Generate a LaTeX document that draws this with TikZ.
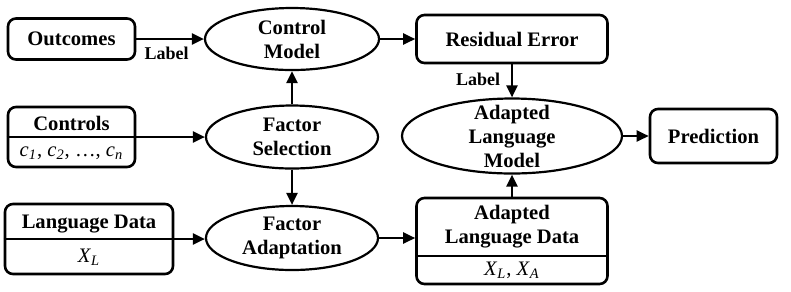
\documentclass[tikz,border=0pt]{standalone}
\usepackage{fontspec}
\setmainfont{Liberation Serif}
\usetikzlibrary{arrows.meta,positioning,shapes.geometric}

\newcommand{\vsub}[2]{\textit{#1}\textsubscript{\textit{#2}}}
\newcommand{\boxfont}{\fontsize{10.3}{12}\selectfont\bfseries}

\tikzset{
    box/.style={
        draw,line width=1.3pt,rounded corners=4pt,inner sep=0pt,
        align=center,font=\boxfont
    },
    oval/.style={
        draw,ellipse,line width=1.1pt,inner sep=0pt
    },
    ovaltext/.style={
        align=center,font=\boxfont
    },
    vartext/.style={
        font=\fontsize{10.3}{12}\selectfont,inner sep=0pt
    },
    split/.style={
        line width=1.3pt
    },
    arrow/.style={
        -{Triangle[length=6pt,width=5.5pt]},line width=1.1pt
    },
    tag/.style={
        font=\fontsize{9}{10}\selectfont\bfseries
    }
}

\begin{document}
\begin{tikzpicture}[x=0.5pt,y=-0.5pt]

\useasboundingbox (0,0) rectangle (791,291);

% top row
\node[box,minimum width=63.5pt,minimum height=20.5pt]
(out) at (71.5,39) {Outcomes};

\node[oval,minimum width=87pt,minimum height=31pt,
label={[ovaltext]center:Control\\Model}]
(cm) at (292,39) {};

\node[box,minimum width=95.5pt,minimum height=24pt]
(res) at (512,39) {Residual Error};

% middle row
\node[box,minimum width=63.5pt,minimum height=30pt]
(ctrl) at (71.5,137) {};
\node[ovaltext] (ctrlhead) at (71.5,123) {Controls};
\node[vartext] (ctrlvar) at (71.5,153)
{\vsub{c}{1}, \vsub{c}{2}, \dots, \vsub{c}{n}};
\draw[split] (ctrl.west) -- (ctrl.east);

\node[oval,minimum width=86pt,minimum height=31.5pt,
label={[ovaltext]center:Factor\\Selection}]
(fs) at (292,137) {};

\node[oval,minimum width=110pt,minimum height=37.5pt,
label={[ovaltext]center:Adapted\\Language\\Model}]
(alm) at (512,136) {};

\node[box,minimum width=63.5pt,minimum height=27pt]
(pred) at (713.5,136) {Prediction};

% bottom row
\node[box,minimum width=84pt,minimum height=35pt]
(lang) at (89,239) {};
\node[ovaltext] (langhead) at (89,224) {Language Data};
\node[vartext] (langvar) at (89,257) {\vsub{X}{L}};
\draw[split] (lang.west) -- (lang.east);

\node[oval,minimum width=86pt,minimum height=32pt,
label={[ovaltext]center:Factor\\Adaptation}]
(fa) at (292,238) {};

\node[box,minimum width=95.5pt,minimum height=43pt]
(ald) at (512,241) {};
\node[ovaltext] (aldhead) at (512,227) {Adapted\\Language Data};
\node[vartext] (aldvar) at (512,270) {\vsub{X}{L}, \vsub{X}{A}};
\draw[split] (ald.west |- 0,256) -- (ald.east |- 0,256);

% connectors
\draw[arrow] (out.east) -- node[tag,below,pos=0.45] {Label} (cm.west);
\draw[arrow] (cm.east) -- (res.west);
\draw[arrow] (fs.north) -- (cm.south);
\draw[arrow] (ctrl.east) -- (fs.west);
\draw[arrow] (fs.south) -- (fa.north);
\draw[arrow] (lang.east) -- (lang.east -| fa.west);
\draw[arrow] (fa.east) -- (fa.east -| ald.west);
\draw[arrow] (res.south) -- node[tag,left=2pt,pos=0.45] {Label} (alm.north);
\draw[arrow] (ald.north) -- (alm.south);
\draw[arrow] (alm.east) -- (pred.west);

\end{tikzpicture}
\end{document}
